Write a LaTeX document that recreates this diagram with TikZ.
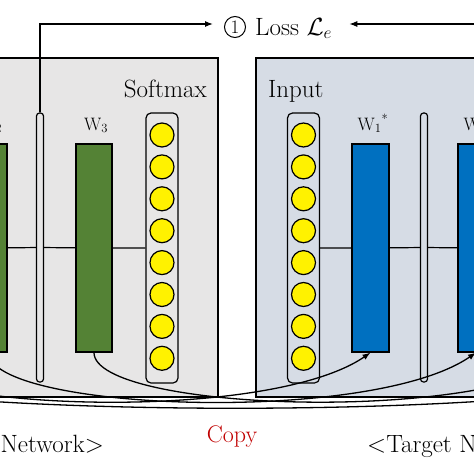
\documentclass[tikz,border=0pt]{standalone}
\usepackage{fontspec}
\usetikzlibrary{arrows.meta}
\definecolor{panelgrey}{RGB}{231,230,230}
\definecolor{panelblue}{RGB}{214,220,229}
\definecolor{wgreen}{RGB}{84,130,53}
\definecolor{wblue}{RGB}{0,112,192}
\definecolor{copyred}{RGB}{192,0,0}
\newcommand\bigtxt{\fontsize{25}{30}\selectfont}
\newcommand\labtxt{\fontsize{18}{22}\selectfont}
\tikzset{
  weight/.style={draw, line width=1.2pt, minimum width=36pt, minimum height=208pt, inner sep=0pt},
  thinbar/.style={draw, line width=1.2pt, rounded corners=3pt, minimum width=7pt, minimum height=269pt, inner sep=0pt},
  column/.style={draw, line width=1.2pt, rounded corners=5pt, minimum width=32pt, minimum height=270pt, inner sep=0pt},
  neuron/.style={circle, draw, line width=1.2pt, fill=yellow, minimum size=24pt, inner sep=0pt},
  copyarrow/.style={line width=1.3pt, -{Latex[length=8pt,width=6pt]}},
  lossarrow/.style={line width=1.2pt, -{Latex[length=8pt,width=6pt]}},
  numcircle/.style={circle, draw, line width=1pt, minimum size=21pt, inner sep=0pt, font=\fontsize{19}{22}\selectfont},
}

\begin{document}
\begin{tikzpicture}[x=1pt,y=-1pt]
		%%%%% START %%%%%
		\useasboundingbox (0,0) rectangle (474,474);
		\clip (0,0) rectangle (474,474);
		
		% panels
		\draw[line width=1.5pt, fill=panelgrey] (-300,58) rectangle (218,397);
		\draw[line width=1.5pt, fill=panelblue] (256,58) rectangle (800,397);
		
		% main network
		\node[weight, fill=wgreen] (w2m) at (-11,248) {};
		\node[thinbar, fill=panelgrey] (barL) at (40,247.5) {};
		\node[weight, fill=wgreen] (w3m) at (94,248) {};
		\node[column, fill=panelgrey] (smax) at (162,248) {};
		\foreach \i in {0,...,7}
			\node[neuron] (s\i) at (162,135+31.9*\i) {};
		\node[anchor=base, font=\labtxt] (lw2m) at (-10,130) {W\textsubscript{2}};
		\node[anchor=base, font=\labtxt] (lw3m) at (96,130) {W\textsubscript{3}};
		\node[anchor=base east, font=\bigtxt, inner sep=0pt] (lsmax) at (207,97) {Softmax};
		
		% target network
		\node[column, fill=panelblue] (inp) at (303.5,248) {};
		\foreach \i in {0,...,7}
			\node[neuron] (n\i) at (303.5,135+31.9*\i) {};
		\node[weight, fill=wblue, minimum width=37pt] (w1t) at (370.5,248) {};
		\node[thinbar, fill=panelblue] (barR) at (424,247.5) {};
		\node[weight, fill=wblue] (w2t) at (476,248) {};
		\node[anchor=base, font=\labtxt] (lw1t) at (373,130) {W\textsubscript{1}\textsuperscript{*}};
		\node[anchor=base, font=\labtxt] (lw2t) at (479,130) {W\textsubscript{2}\textsuperscript{*}};
		\node[anchor=base west, font=\bigtxt, inner sep=0pt] (linp) at (268,97) {Input};
		
		% layer links
		\draw[line width=1.2pt] (w2m) -- (barL) -- (w3m) -- (smax);
		\draw[line width=1.2pt] (inp) -- (w1t) -- (barR) -- (w2t);
		
		% loss
		\node[numcircle] (lossnum) at (235,27) {1};
		\node[anchor=base west, font=\bigtxt, inner sep=0pt] (loss) at (255,35) {Loss $\mathcal{L}_e$};
		\coordinate (lossy) at (0,24);
		\coordinate (lossR) at (520,24);
		\draw[lossarrow, shorten >=11pt] (barL.north) |- (lossy -| lossnum.west);
		\draw[lossarrow, shorten >=17pt] (lossR) -- (lossy -| loss.east);
		
		% copy
		\coordinate (w1m) at (-117,352);
		\coordinate (w3t) at (582,352);
		\coordinate (farL) at (-250,352);
		\coordinate (farR) at (720,352);
		\draw[copyarrow] (w1m) .. controls +(0,58) and +(-106,73) .. (w1t.south);
		\draw[copyarrow] (w2m.south) .. controls +(0,58) and +(-106,73) .. (w2t.south);
		\draw[copyarrow] (w3m.south) .. controls +(0,58) and +(-106,73) .. (w3t);
		\draw[line width=1.3pt] (farL) .. controls +(0,75) and +(0,75) .. (farR);
		
		\node[anchor=base east, font=\bigtxt, inner sep=0pt] (mainlbl) at (104,452) {<Main Network>};
		\node[anchor=base west, font=\bigtxt, inner sep=0pt] (tgtlbl) at (367,452) {<Target Network>};
		\node[anchor=base, font=\fontsize{24}{28}\selectfont, text=copyred, inner sep=0pt] (copylbl) at (232,442) {Copy};
		%%%%% END %%%%%
	\end{tikzpicture}
\end{document}
